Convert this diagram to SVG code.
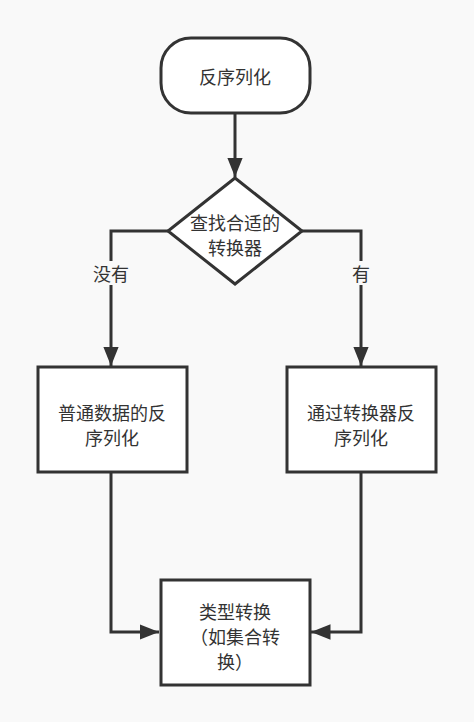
<svg xmlns="http://www.w3.org/2000/svg" width="474" height="722" viewBox="0 0 474 722">
<style>
.shape{fill:#fff;stroke:#333;stroke-width:3}
.edge{fill:none;stroke:#333;stroke-width:3}
text{font-family:"Noto Sans CJK SC","Noto Sans",sans-serif;font-size:18px;fill:#333;text-anchor:middle;dominant-baseline:central}
.lbl{fill:#f9f9f9}
</style>
<defs>
<marker id="arr" viewBox="0 0 10 10" refX="10" refY="5" markerWidth="6.5" markerHeight="6.5" markerUnits="strokeWidth" orient="auto">
<path d="M0,1 L10,5 L0,9 Z" fill="#333"/>
</marker>
</defs>
<rect width="474" height="722" fill="#f9f9f9"/>
<g id="connectors">
<path class="edge" d="M235,113 V177" marker-end="url(#arr)"/>
<path class="edge" d="M168,231 H111 V366" marker-end="url(#arr)"/>
<path class="edge" d="M302,231 H361 V366" marker-end="url(#arr)"/>
<path class="edge" d="M111,472 V632 H159" marker-end="url(#arr)"/>
<path class="edge" d="M361,472 V632 H311" marker-end="url(#arr)"/>
<rect class="lbl" x="91" y="261" width="40" height="24"/>
<text x="111" y="273">没有</text>
<rect class="lbl" x="351" y="261" width="20" height="24"/>
<text x="361" y="273">有</text>
</g>
<g id="start">
<rect class="shape" x="161" y="38" width="149" height="75" rx="30"/>
<text x="235" y="76">反序列化</text>
</g>
<g id="decision">
<polygon class="shape" points="235,178 302,231 235,284 168,231"/>
<text x="235" y="222">查找合适的</text>
<text x="235" y="247">转换器</text>
</g>
<g id="normal">
<rect class="shape" x="38" y="367" width="149" height="105"/>
<text x="112" y="412">普通数据的反</text>
<text x="112" y="437">序列化</text>
</g>
<g id="converter">
<rect class="shape" x="287" y="367" width="149" height="105"/>
<text x="361" y="412">通过转换器反</text>
<text x="361" y="437">序列化</text>
</g>
<g id="typeconv">
<rect class="shape" x="161" y="580" width="149" height="105"/>
<text x="235" y="611">类型转换</text>
<text x="235" y="636">（如集合转</text>
<text x="235" y="661">换）</text>
</g>
</svg>
